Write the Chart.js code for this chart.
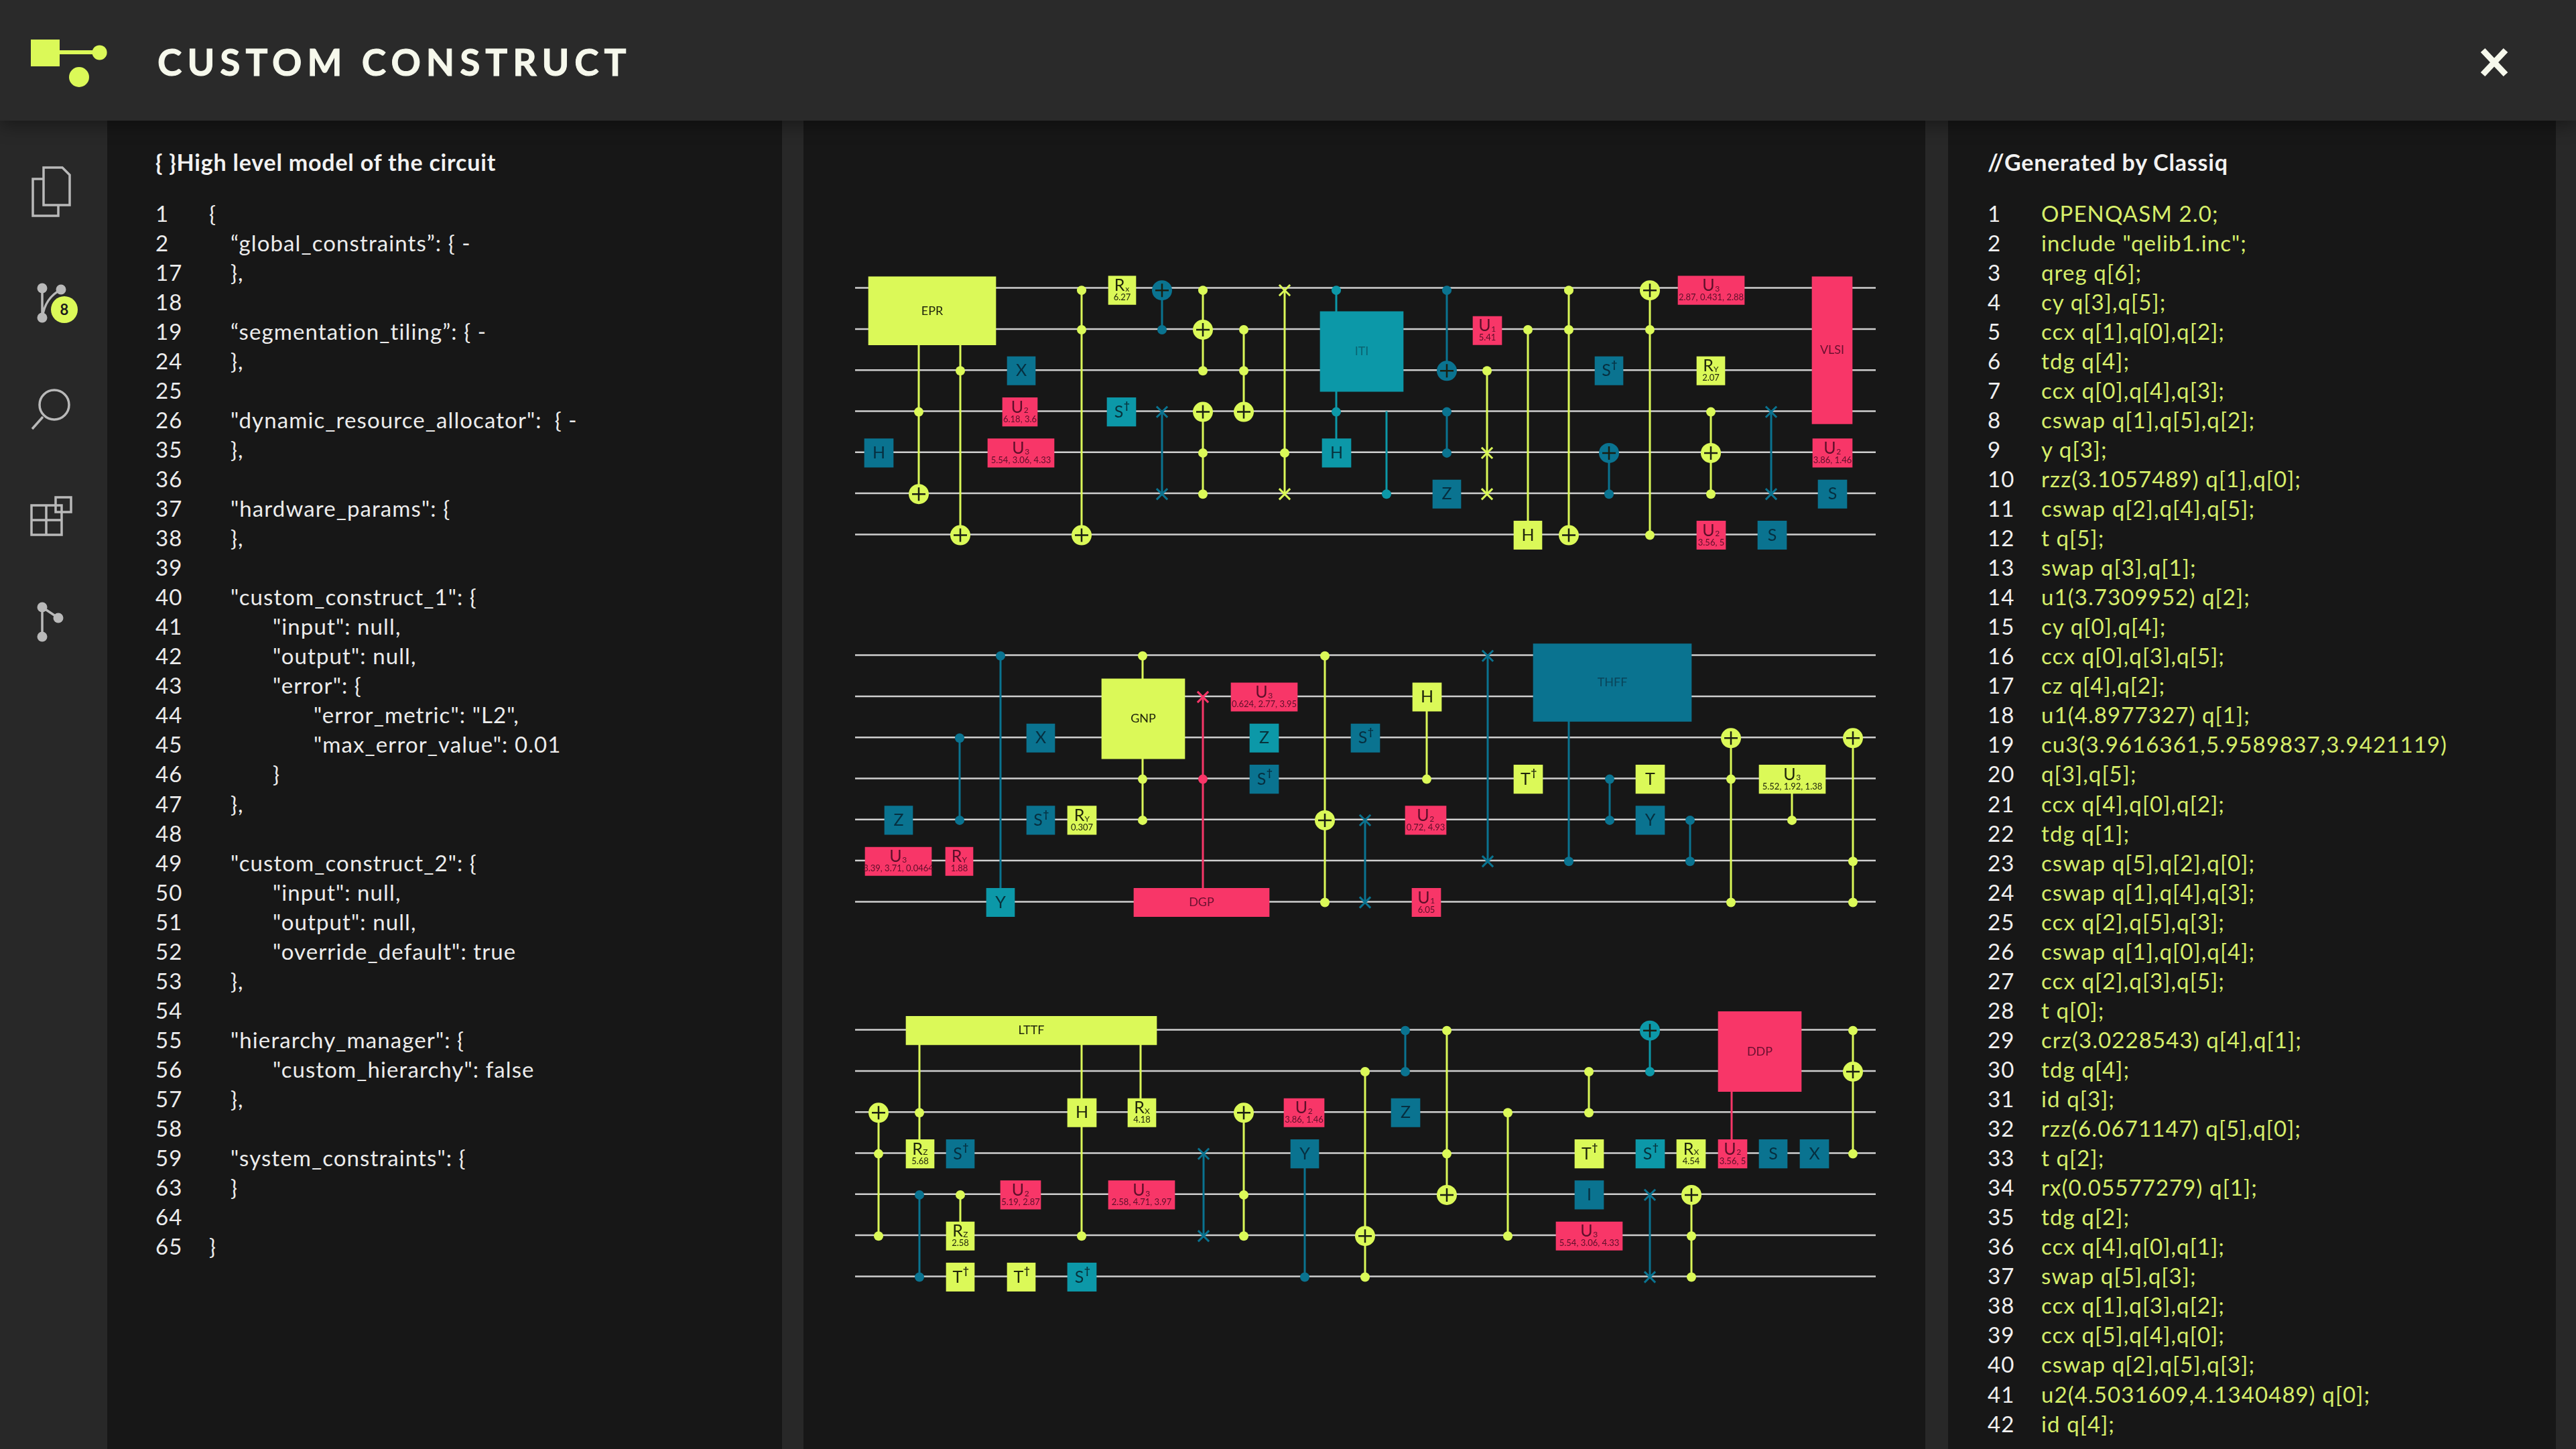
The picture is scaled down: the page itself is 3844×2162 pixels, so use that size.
<!DOCTYPE html>
<html>
<head>
<meta charset="utf-8">
<title>Custom Construct</title>
<script src="https://cdn.jsdelivr.net/npm/chart.js@4"></script>
<style>
  html, body { margin: 0; padding: 0; width: 3844px; height: 2162px; overflow: hidden; background: #282828; font-family: Lato, sans-serif; }
  .abs { position: absolute; }
  #header { left: 0; top: 0; width: 3844px; height: 180px; background: #2a2a2a; box-shadow: 0 8px 24px rgba(0,0,0,.35); z-index: 5; }
  #title { left: 235px; top: 57px; font-size: 55px; line-height: 70px; font-weight: 700; letter-spacing: 8px; color: #f6f8ec; white-space: nowrap; -webkit-text-stroke: 1px #f6f8ec; }
  .panel { top: 180px; height: 1982px; background: #171717; }
  .head { top: 221px; font-size: 34px; line-height: 42px; font-weight: 700; color: #f2f2f2; white-space: nowrap; letter-spacing: .8px; }
  .code { font-size: 33px; line-height: 44px; white-space: pre; letter-spacing: 1.1px; }
  canvas { position: absolute; left: 1200px; }
</style>
</head>
<body>
<div class="abs panel" style="left:160px;width:1007px"></div>
<div class="abs panel" style="left:1199px;width:1674px"></div>
<div class="abs panel" style="left:2907px;width:907px"></div>
<div class="abs" id="header">
  <div class="abs" id="title">CUSTOM CONSTRUCT</div>
  <svg class="abs" style="left:0;top:0" width="3844" height="180">
    <g fill="#dbf958" stroke="none">
      <rect x="46" y="59" width="43" height="40"/>
      <rect x="89" y="75" width="55" height="6"/>
      <circle cx="148.6" cy="78.4" r="11"/>
      <circle cx="118" cy="115" r="15"/>
    </g>
    <path d="M3705 75 L3739 111 M3739 75 L3705 111" stroke="#f6f8ec" stroke-width="9" fill="none"/>
  </svg>
</div>
<svg class="abs" style="left:0;top:180px" width="160" height="800" viewBox="0 180 160 800">
  <g fill="none" stroke="#b9b9b9" stroke-width="3.5">
    <path d="M65 267 H49 V322 H87 V306"/>
    <path d="M65 306 V250 H93 L104 261 V306 Z"/>
    <path d="M63 430 V474 M63 474 C66 452 76 440 91 432"/>
    <circle cx="81" cy="604" r="22"/>
    <path d="M64 622 L48 640"/>
    <path d="M47 754 H92 V798 H47 Z M47 776 H92 M69 776 V798 M69 754 V776"/>
    <rect x="83" y="742" width="23" height="22"/>
    <path d="M63 906 V950 M63 906 L87 922"/>
  </g>
  <g fill="#b9b9b9">
    <circle cx="63" cy="430" r="7.5"/><circle cx="63" cy="474" r="7.5"/><circle cx="91" cy="432" r="7.5"/>
    <circle cx="63" cy="906" r="7.5"/><circle cx="63" cy="950" r="7.5"/><circle cx="87" cy="922" r="7.5"/>
  </g>
  <circle cx="96" cy="462" r="20" fill="#dbf958"/>
  <text x="96" y="470" font-family="Lato" font-weight="700" font-size="22" text-anchor="middle" fill="#1b1b1b">8</text>
</svg>
<div class="abs head" style="left:232px">{ }High level model of the circuit</div>
<div class="abs head" style="left:2966px">//Generated by Classiq</div>
<canvas id="circuit1" width="1673" height="515" style="top:356px"></canvas>
<canvas id="circuit2" width="1673" height="515" style="top:904px"></canvas>
<canvas id="circuit3" width="1673" height="515" style="top:1463px"></canvas>
<script>
// left listing: line number, indent level, text
const modelLines = [
  [1, 0, '{'], [2, 1, '“global_constraints”: { -'], [17, 1, '},'], [18, 0, ''],
  [19, 1, '“segmentation_tiling”: { -'], [24, 1, '},'], [25, 0, ''],
  [26, 1, '"dynamic_resource_allocator":  { -'], [35, 1, '},'], [36, 0, ''],
  [37, 1, '"hardware_params": {'], [38, 1, '},'], [39, 0, ''],
  [40, 1, '"custom_construct_1": {'], [41, 2, '"input": null,'], [42, 2, '"output": null,'],
  [43, 2, '"error": {'], [44, 3, '"error_metric": "L2",'], [45, 3, '"max_error_value": 0.01'],
  [46, 2, '}'], [47, 1, '},'], [48, 0, ''],
  [49, 1, '"custom_construct_2": {'], [50, 2, '"input": null,'], [51, 2, '"output": null,'],
  [52, 2, '"override_default": true'], [53, 1, '},'], [54, 0, ''],
  [55, 1, '"hierarchy_manager": {'], [56, 2, '"custom_hierarchy": false'], [57, 1, '},'], [58, 0, ''],
  [59, 1, '"system_constraints": {'], [63, 1, '}'], [64, 0, ''], [65, 0, '}']
];
// right listing
const qasmLines = [
  'OPENQASM 2.0;', 'include "qelib1.inc";', 'qreg q[6];', 'cy q[3],q[5];', 'ccx q[1],q[0],q[2];', 'tdg q[4];',
  'ccx q[0],q[4],q[3];', 'cswap q[1],q[5],q[2];', 'y q[3];', 'rzz(3.1057489) q[1],q[0];', 'cswap q[2],q[4],q[5];',
  't q[5];', 'swap q[3],q[1];', 'u1(3.7309952) q[2];', 'cy q[0],q[4];', 'ccx q[0],q[3],q[5];', 'cz q[4],q[2];',
  'u1(4.8977327) q[1];', 'cu3(3.9616361,5.9589837,3.9421119)', 'q[3],q[5];', 'ccx q[4],q[0],q[2];', 'tdg q[1];',
  'cswap q[5],q[2],q[0];', 'cswap q[1],q[4],q[3];', 'ccx q[2],q[5],q[3];', 'cswap q[1],q[0],q[4];', 'ccx q[2],q[3],q[5];',
  't q[0];', 'crz(3.0228543) q[4],q[1];', 'tdg q[4];', 'id q[3];', 'rzz(6.0671147) q[5],q[0];', 't q[2];',
  'rx(0.05577279) q[1];', 'tdg q[2];', 'ccx q[4],q[0],q[1];', 'swap q[5],q[3];', 'ccx q[1],q[3],q[2];',
  'ccx q[5],q[4],q[0];', 'cswap q[2],q[5],q[3];', 'u2(4.5031609,4.1340489) q[0];', 'id q[4];'
];

// boxes: label, params, start step, end step, wire, family, size class
const boxes1 = [
  ['EPR', '', 2.0, 21.0, 0.54, 'lime', 'two'], ['H', '', 1.4, 5.7, 4, 'deep', 'one'],
  ['X', '', 22.7, 26.9, 2, 'deep', 'one'], ['U2', '6.18, 3.6', 22.0, 27.2, 3, 'rose', 'one'],
  ['U3', '5.54, 3.06, 4.33', 19.8, 29.7, 4, 'rose', 'one'], ['Rx', '6.27', 37.8, 41.9, 0.04, 'lime', 'one'],
  ['S†', '', 37.6, 41.9, 3, 'teal', 'one'], ['H', '', 69.7, 74.0, 4, 'teal', 'one'],
  ['ITI', '', 69.4, 81.8, 1.53, 'teal', 'three'], ['Z', '', 86.2, 90.4, 5, 'deep', 'one'],
  ['U1', '5.41', 92.2, 96.5, 1.02, 'rose', 'one'], ['H', '', 98.3, 102.5, 6, 'lime', 'one'],
  ['S†', '', 110.4, 114.6, 2, 'deep', 'one'], ['U3', '2.87, 0.431, 2.88', 122.8, 132.7, 0.04, 'rose', 'one'],
  ['RY', '2.07', 125.6, 129.8, 2, 'lime', 'one'], ['U2', '3.56, 5', 125.6, 129.9, 6, 'rose', 'one'],
  ['S', '', 134.7, 139.0, 6, 'deep', 'one'], ['VLSI', '', 142.8, 148.8, 1.5, 'rose', 'tall'],
  ['U2', '3.86, 1.46', 142.9, 148.8, 4, 'rose', 'one'], ['S', '', 143.7, 148.0, 5, 'deep', 'one']
];
// ops: step, family, control wires, target wires, swap wires, extra wires the link reaches
const ops1 = [
  [9.5, 'lime', [3], [5], [], [1]], [15.7, 'lime', [2], [6], [], [1]], [33.8, 'lime', [0.04, 1], [6], [], []],
  [45.8, 'deep', [1], [0.04], [], []], [45.8, 'deep', [], [], [3, 5], []], [51.9, 'lime', [0.04, 2], [1], [], []],
  [51.9, 'lime', [4, 5], [3], [], []], [58.0, 'lime', [1, 2], [3], [], []], [64.1, 'lime', [4], [], [0.04, 5], []],
  [71.8, 'teal', [0.04, 3], [], [], [4]], [79.3, 'teal', [5], [], [], [3]], [88.3, 'deep', [0.04], [2], [], []],
  [88.3, 'deep', [3, 4], [], [], []], [94.3, 'lime', [2], [], [4, 5], []], [100.4, 'lime', [1], [], [], [6]],
  [106.5, 'lime', [0.04, 1], [6], [], []], [112.5, 'deep', [5], [4], [], []], [118.6, 'lime', [1, 6], [0.04], [], []],
  [127.7, 'lime', [3, 5], [4], [], []], [136.7, 'deep', [], [], [3, 5], []]
];

const boxes2 = [
  ['U3', '3.39, 3.71, 0.0464', 1.5, 11.4, 5, 'rose', 'one'], ['Z', '', 4.4, 8.6, 4, 'deep', 'one'],
  ['RY', '1.88', 13.5, 17.6, 5, 'rose', 'one'], ['Y', '', 19.6, 23.8, 6, 'teal', 'one'],
  ['X', '', 25.6, 29.8, 2, 'deep', 'one'], ['S†', '', 25.6, 29.8, 4, 'deep', 'one'],
  ['RY', '0.307', 31.7, 36.0, 4, 'lime', 'one'], ['GNP', '', 36.8, 49.2, 1.53, 'lime', 'three'],
  ['DGP', '', 41.6, 61.8, 6, 'rose', 'one'], ['U3', '0.624, 2.77, 3.95', 56.1, 66.0, 1, 'rose', 'one'],
  ['Z', '', 58.9, 63.2, 2, 'teal', 'one'], ['S†', '', 58.9, 63.2, 3, 'deep', 'one'],
  ['S†', '', 74.0, 78.3, 2, 'deep', 'one'], ['H', '', 83.2, 87.5, 1, 'lime', 'one'],
  ['U2', '0.72, 4.93', 82.1, 88.2, 4, 'rose', 'one'], ['U1', '6.05', 83.1, 87.4, 6, 'rose', 'one'],
  ['T†', '', 98.3, 102.6, 3, 'lime', 'one'], ['THFF', '', 101.2, 124.8, 0.65, 'deep', 'wide'],
  ['T', '', 116.5, 120.8, 3, 'lime', 'one'], ['Y', '', 116.5, 120.8, 4, 'deep', 'one'],
  ['U3', '5.52, 1.92, 1.38', 134.9, 144.8, 3, 'lime', 'one']
];
const ops2 = [
  [15.6, 'deep', [2, 4], [], [], []], [21.7, 'deep', [0], [], [], [6]], [42.9, 'lime', [0, 3, 4], [], [], []],
  [51.9, 'rose', [3], [], [1], [6]], [70.1, 'lime', [0, 6], [4], [], []], [76.1, 'deep', [], [], [4, 6], []],
  [85.3, 'lime', [3], [], [], [1]], [94.4, 'deep', [], [], [0, 5], []], [106.5, 'deep', [5], [], [], [1]],
  [112.6, 'deep', [3, 4], [], [], []], [124.6, 'deep', [4, 5], [], [], []], [130.7, 'lime', [3, 6], [2], [], []],
  [139.8, 'lime', [4], [], [], [3]], [148.9, 'lime', [5, 6], [2], [], []]
];

const boxes3 = [
  ['LTTF', '', 7.6, 45.0, 0, 'lime', 'one'], ['RZ', '5.68', 7.6, 11.8, 3, 'lime', 'one'],
  ['S†', '', 13.6, 17.8, 3, 'deep', 'one'], ['RZ', '2.58', 13.6, 17.8, 5, 'lime', 'one'],
  ['T†', '', 13.6, 17.8, 6, 'lime', 'one'], ['T†', '', 22.7, 26.9, 6, 'lime', 'one'],
  ['U2', '5.19, 2.87', 21.7, 27.7, 4, 'rose', 'one'], ['S†', '', 31.7, 36.0, 6, 'teal', 'one'],
  ['H', '', 31.7, 36.0, 2, 'lime', 'one'], ['RX', '4.18', 40.7, 44.9, 2, 'lime', 'one'],
  ['U3', '2.58, 4.71, 3.97', 37.8, 47.7, 4, 'rose', 'one'], ['U2', '3.86, 1.46', 64.0, 70.0, 2, 'rose', 'one'],
  ['Y', '', 65.0, 69.2, 3, 'deep', 'one'], ['Z', '', 80.0, 84.3, 2, 'deep', 'one'],
  ['T†', '', 107.4, 111.7, 3, 'lime', 'one'], ['I', '', 107.4, 111.7, 4, 'deep', 'one'],
  ['U3', '5.54, 3.06, 4.33', 104.6, 114.5, 5, 'rose', 'one'], ['S†', '', 116.5, 120.8, 3, 'teal', 'one'],
  ['RX', '4.54', 122.6, 126.9, 3, 'lime', 'one'], ['DDP', '', 128.8, 141.2, 0.51, 'rose', 'three'],
  ['U2', '3.56, 5', 128.8, 133.1, 3, 'rose', 'one'], ['S', '', 134.9, 139.1, 3, 'deep', 'one'],
  ['X', '', 141.0, 145.3, 3, 'deep', 'one']
];
const ops3 = [
  [3.5, 'lime', [3, 5], [2], [], []], [9.6, 'lime', [2], [], [], [0, 3]], [9.6, 'deep', [4, 6], [], [], []],
  [15.7, 'lime', [4], [], [], [5]], [33.8, 'lime', [5], [], [], [0]], [42.6, 'lime', [], [], [], [0, 2]],
  [52.0, 'deep', [], [], [3, 5], []], [58.0, 'lime', [4, 5], [2], [], []], [67.1, 'deep', [6], [], [], [3]],
  [76.1, 'lime', [1, 6], [5], [], []], [82.1, 'deep', [0, 1], [], [], []], [88.3, 'lime', [0, 3], [4], [], []],
  [97.4, 'lime', [2, 5], [], [], []], [109.5, 'lime', [1, 2], [], [], []], [118.6, 'teal', [1], [0], [], []],
  [118.6, 'deep', [], [], [4, 6], []], [124.8, 'lime', [5, 6], [4], [], []], [130.8, 'rose', [], [], [], [0.5, 3]],
  [148.9, 'lime', [0, 3], [1], [], []]
];

const wireRows = [0, 1, 2, 3, 4, 5, 6];
const wireStart = 0;
const wireEnd = 152.3;

const COLORS = { lime: '#dbf958', rose: '#f83668', teal: '#0c98a8', deep: '#0a7390' };
const INK = { lime: '#20260c', rose: '#5e0f2a', teal: '#07323c', deep: '#062f40' };
const BLOCK_INK = { lime: '#20260c', rose: '#6a1030', teal: '#0a6472', deep: '#0a4459' };
const BOX_HEIGHTS = { one: 42.5, two: 102, three: 119.3, wide: 115.7, tall: 219.7 };
const GAP = { x: null, y: null };
const WIRE_COLOR = '#cfcfcf';

// gates sit about a pixel under their wire
const gateShift = 0.018;

function gateLabelPlugin(boxes) {
  return {
    id: 'gateLabels',
    afterDatasetsDraw(chart) {
      const { ctx, scales: { x, y } } = chart;
      ctx.save();
      ctx.textAlign = 'center';
      ctx.textBaseline = 'middle';
      boxes.forEach(([label, params, from, to, wire, family]) => {
        const cx = x.getPixelForValue((from + to) / 2);
        const cy = y.getPixelForValue(wire + gateShift);
        if (label.length > 2) {
          ctx.font = '18px Lato';
          ctx.fillStyle = BLOCK_INK[family];
          ctx.fillText(label, cx, cy);
          return;
        }
        const glyphY = params ? cy - 7 : cy;
        const main = label[0];
        const tail = label.slice(1);
        ctx.fillStyle = INK[family];
        ctx.font = '25px Lato';
        const w = ctx.measureText(main).width;
        const tw = tail ? 8 : 0;
        ctx.fillText(main, cx - tw / 2, glyphY);
        if (tail === '†') {
          ctx.font = '700 15px Lato';
          ctx.fillText(tail, cx - tw / 2 + w / 2 + 5, glyphY - 9);
        } else if (tail) {
          ctx.font = '12px Lato';
          ctx.fillText(tail, cx - tw / 2 + w / 2 + 4, glyphY + 5);
        }
        if (params) {
          ctx.font = '13px Lato';
          ctx.fillText(params, cx, cy + 11);
        }
      });
      ctx.restore();
    }
  };
}

function drawCircuit(canvasId, boxes, ops) {
  const datasets = [];
  const wireData = [];
  wireRows.forEach(r => wireData.push({ x: wireStart, y: r }, { x: wireEnd, y: r }, GAP));
  datasets.push({ type: 'scatter', data: wireData, showLine: true, borderColor: WIRE_COLOR, borderWidth: 2.5, pointRadius: 0, order: 10, clip: false });

  Object.keys(COLORS).forEach(family => {
    const famOps = ops.filter(op => op[1] === family);
    const links = [], dots = [], targets = [], swaps = [];
    famOps.forEach(([step, , ctrl, targ, swap, extra]) => {
      const all = [...ctrl, ...targ, ...swap, ...extra];
      links.push({ x: step, y: Math.min(...all) }, { x: step, y: Math.max(...all) }, GAP);
      ctrl.forEach(r => dots.push({ x: step, y: r + gateShift }));
      targ.forEach(r => targets.push({ x: step, y: r + gateShift }));
      swap.forEach(r => swaps.push({ x: step, y: r + gateShift }));
    });
    datasets.push({ type: 'scatter', data: links, showLine: true, borderColor: COLORS[family], borderWidth: 3, pointRadius: 0, order: 8, clip: false });
    datasets.push({ type: 'scatter', data: dots, backgroundColor: COLORS[family], borderWidth: 0, pointRadius: 7, order: 3, clip: false });
    datasets.push({ type: 'scatter', data: swaps, pointStyle: 'crossRot', borderColor: COLORS[family], borderWidth: 3, pointRadius: 11.5, order: 3, clip: false });
    datasets.push({ type: 'scatter', data: targets, backgroundColor: COLORS[family], borderWidth: 0, pointRadius: 15, order: 3, clip: false });
    datasets.push({ type: 'scatter', data: targets, pointStyle: 'cross', borderColor: '#1a1f12', borderWidth: 2.5, pointRadius: 10, order: 2, clip: false });
  });

  Object.keys(BOX_HEIGHTS).forEach(size => {
    const sized = boxes.filter(b => b[6] === size);
    if (!sized.length) return;
    datasets.push({
      type: 'bar',
      indexAxis: 'y',
      stack: 'gates',
      barThickness: BOX_HEIGHTS[size],
      data: sized.map(b => ({ x: [b[2], b[3]], y: b[4] + gateShift })),
      backgroundColor: sized.map(b => COLORS[b[5]]),
      borderWidth: 0,
      order: size === 'one' ? 4 : 5
    });
  });

  new Chart(document.getElementById(canvasId), {
    type: 'scatter',
    data: { datasets },
    options: {
      responsive: false,
      devicePixelRatio: 1,
      animation: false,
      events: [],
      layout: { padding: 0, autoPadding: false },
      plugins: { legend: { display: false }, tooltip: { enabled: false } },
      scales: {
        x: { type: 'linear', display: false, offset: false, stacked: false, min: -7.6, max: 159.7 },
        y: { type: 'linear', display: false, offset: false, reverse: true, min: -1.2, max: 7.2 }
      }
    },
    plugins: [gateLabelPlugin(boxes)]
  });
}

function addLine(left, top, text, color) {
  if (text === '') return;
  const el = document.createElement('div');
  el.className = 'abs code';
  el.style.left = left + 'px';
  el.style.top = top + 'px';
  el.style.color = color;
  el.textContent = text;
  document.body.appendChild(el);
}

const INDENT_X = [312, 344, 407, 468];
modelLines.forEach(([num, level, text], i) => {
  const top = 295.5 + i * 44.05;
  addLine(232, top, String(num), '#ececec');
  addLine(INDENT_X[level], top, text, '#ececec');
});
qasmLines.forEach((text, i) => {
  const top = 295.5 + i * 44.05;
  addLine(2966, top, String(i + 1), '#f0f0f0');
  addLine(3046, top, text, '#d6ee6a');
});

document.fonts.load('18px Lato').finally(() => {
  drawCircuit('circuit1', boxes1, ops1);
  drawCircuit('circuit2', boxes2, ops2);
  drawCircuit('circuit3', boxes3, ops3);
});
</script>
</body>
</html>
